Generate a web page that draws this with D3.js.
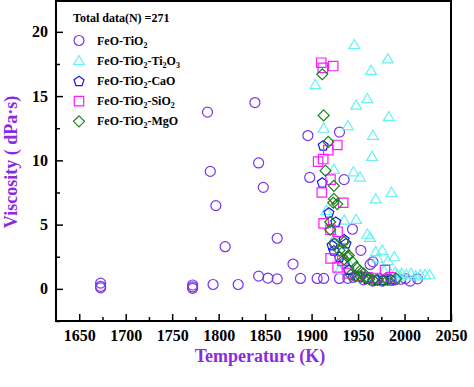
<!DOCTYPE html>
<html>
<head>
<meta charset="utf-8">
<script src="https://cdn.jsdelivr.net/npm/d3@7"></script>
<style>
  body { margin: 0; background: #fff; }
  text { font-family: "Liberation Serif", "Times New Roman", serif; font-weight: bold; }
</style>
</head>
<body>
<svg id="chart"></svg>
<script>
// data: [temperature K, viscosity dPa·s]
const feoTio2 = [
  [1673, 0.45], [1673, 0.2], [1673, 0.08], [1772, 0.3], [1772, 0.15], [1772, 0.04],
  [1788, 13.75], [1791, 9.14], [1794, 0.34], [1797, 6.48], [1807, 3.28], [1821, 0.34],
  [1839, 14.5], [1843, 9.8], [1843, 0.99], [1848, 7.9], [1853, 0.84], [1863, 3.94],
  [1863, 0.78], [1880, 1.93], [1888, 0.81], [1896, 11.93], [1898, 8.67], [1906, 0.81],
  [1913, 0.81], [1930, 12.2], [1935, 8.5], [1930, 0.81], [1939, 0.82], [1944, 4.64],
  [1953, 3.0], [1963, 1.9], [1966, 2.1], [1971, 0.75], [1980, 0.8], [1990, 0.7],
  [2001, 0.8], [2006, 0.6], [2014, 0.78], [1925, 3.5], [1935, 2.0], [1950, 1.0], [1960, 0.9],
  [1945, 0.9], [1956, 0.7], [1966, 0.6], [1976, 0.6], [1986, 0.65], [1996, 0.75]
];
const feoTio2Ti2o3 = [
  [1946, 19.0], [1982, 17.9], [1964, 17.0], [1904, 15.9], [1960, 14.8], [1948, 14.3],
  [1983, 13.4], [1939, 12.7], [1913, 12.5], [1966, 11.95], [1965, 10.3], [1924, 9.3],
  [1945, 9.1], [1952, 8.7], [1986, 7.5], [1969, 7.0], [1916, 6.1], [1935, 5.35],
  [1948, 5.4], [1960, 4.25], [1963, 4.0], [1969, 2.9], [1976, 3.0], [1971, 2.4],
  [1982, 2.2], [1989, 2.5], [1992, 1.1], [1997, 1.2], [2002, 1.1], [2007, 1.2],
  [2012, 1.0], [2017, 1.1], [2022, 1.1], [2027, 1.1], [1990, 1.3], [1995, 1.0],
  [1985, 1.2], [1978, 1.4], [1930, 1.5], [1940, 2.0], [1925, 4.0]
];
const feoTio2Cao = [
  [1912.5, 11.17], [1911.5, 8.28], [1918.6, 5.94], [1926, 5.23], [1935, 3.86], [1937, 3.55],
  [1922, 3.4], [1924, 3.0], [1930, 2.5], [1940, 1.5], [1950, 1.0], [1960, 0.8],
  [1970, 0.7], [1978, 0.7], [1985, 0.76]
];
const feoTio2Sio2 = [
  [1910.4, 17.6], [1912, 17.2], [1923.3, 17.34], [1927.7, 11.2], [1918, 10.8], [1907, 9.9],
  [1912.5, 10.1], [1920.4, 8.5], [1911, 7.5], [1934, 6.7], [1913, 5.1], [1920.4, 4.6],
  [1928, 4.45], [1920.4, 2.37], [1928, 1.67], [1933, 2.2], [1940, 1.2], [1950, 1.0],
  [1960, 0.9], [1970, 0.85], [1979, 1.46], [1985, 0.9]
];
const feoTio2Mgo = [
  [1911.5, 16.7], [1913, 13.5], [1918, 11.44], [1915, 9.2], [1924, 8.02], [1924, 7.0],
  [1923.3, 6.7], [1927.6, 6.6], [1920, 5.2], [1920, 4.6], [1935, 3.67], [1924, 3.55],
  [1935, 3.0], [1930, 3.0], [1938.5, 2.5], [1940, 2.6], [1935, 2.3], [1944, 2.1],
  [1948, 1.7], [1952, 1.4], [1956, 1.2], [1942, 1.1], [1953, 0.94], [1962, 0.75],
  [1971, 0.7], [1982, 0.7], [1991, 0.8], [1947, 1.0], [1958, 0.85], [1966, 0.7], [1977, 0.65]
];

const xTicks = [1650, 1700, 1750, 1800, 1850, 1900, 1950, 2000, 2050];
const yTicks = [0, 5, 10, 15, 20];
const seriesNames = [
  ['FeO-TiO', ['2']],
  ['FeO-TiO', ['2', '-Ti', '2', 'O', '3']],
  ['FeO-TiO', ['2', '-CaO']],
  ['FeO-TiO', ['2', '-SiO', '2']],
  ['FeO-TiO', ['2', '-MgO']]
];
const totalLabel = 'Total data(N) =271';

const width = 474, height = 387;
const margin = { top: 1, right: 23, bottom: 66, left: 56 };

const svg = d3.select('#chart').attr('width', width).attr('height', height);

const x = d3.scaleLinear().domain([1625, 2050]).range([margin.left, width - margin.right]);
const y = d3.scaleLinear().domain([-2.5, 22.4]).range([height - margin.bottom, margin.top]);

// minor ticks
svg.append('g')
  .attr('transform', `translate(0,${height - margin.bottom})`)
  .call(d3.axisBottom(x).tickValues(d3.range(1675, 2050, 50)).tickSize(-4).tickFormat(''))
  .call(g => g.select('.domain').remove());
svg.append('g')
  .attr('transform', `translate(${margin.left},0)`)
  .call(d3.axisLeft(y).tickValues([-2.5, 2.5, 7.5, 12.5, 17.5]).tickSize(-4).tickFormat(''))
  .call(g => g.select('.domain').remove());

// major ticks
const xAxis = svg.append('g')
  .attr('transform', `translate(0,${height - margin.bottom})`)
  .call(d3.axisBottom(x).tickValues(xTicks).tickSize(-7).tickPadding(9).tickFormat(d3.format('d')));
const yAxis = svg.append('g')
  .attr('transform', `translate(${margin.left},0)`)
  .call(d3.axisLeft(y).tickValues(yTicks).tickSize(-7).tickPadding(8));

[xAxis, yAxis].forEach(g => {
  g.select('.domain').remove();
  g.selectAll('text').attr('font-size', 16).attr('fill', '#000')
    .attr('font-family', '"Liberation Serif", serif').attr('font-weight', 'bold');
});
svg.selectAll('.tick line').attr('stroke', '#000').attr('stroke-width', 1.5);

// frame
svg.append('rect')
  .attr('x', margin.left).attr('y', margin.top)
  .attr('width', width - margin.right - margin.left)
  .attr('height', height - margin.bottom - margin.top)
  .attr('fill', 'none').attr('stroke', '#000').attr('stroke-width', 2);

// marker shapes
const shapes = {
  circle: 'M5,0A5,5 0 1,1 -5,0A5,5 0 1,1 5,0Z',
  triangle: 'M0,-5.2L5.4,4L-5.4,4Z',
  pentagon: d3.range(5).map(i => {
    const a = -Math.PI / 2 + i * 2 * Math.PI / 5;
    return (i ? 'L' : 'M') + (5.2 * Math.cos(a)).toFixed(2) + ',' + (5.2 * Math.sin(a) + 0.5).toFixed(2);
  }).join('') + 'Z',
  square: 'M-4.7,-4.7L4.7,-4.7L4.7,4.7L-4.7,4.7Z',
  diamond: 'M0,-5.5L5.5,0L0,5.5L-5.5,0Z'
};

const series = [
  { data: feoTio2, shape: 'circle', color: '#7a35e8' },
  { data: feoTio2Ti2o3, shape: 'triangle', color: '#66f2f2' },
  { data: feoTio2Cao, shape: 'pentagon', color: '#1414ff' },
  { data: feoTio2Sio2, shape: 'square', color: '#ff1aff' },
  { data: feoTio2Mgo, shape: 'diamond', color: '#1a801a' }
];

const plot = svg.append('g');
series.forEach(s => {
  plot.append('g').selectAll('path')
    .data(s.data)
    .join('path')
    .attr('d', shapes[s.shape])
    .attr('transform', d => `translate(${x(d[0])},${y(d[1])})`)
    .attr('fill', 'none')
    .attr('stroke', s.color)
    .attr('stroke-width', 1.2);
});

// legend
const legend = svg.append('g');
legend.append('text').attr('x', 73).attr('y', 22).attr('font-size', 12).text(totalLabel);
series.forEach((s, i) => {
  const cy = 40.5 + i * 20.2;
  legend.append('path').attr('d', shapes[s.shape])
    .attr('transform', `translate(79,${cy})`)
    .attr('fill', 'none').attr('stroke', s.color).attr('stroke-width', 1.2);
  const t = legend.append('text').attr('x', 97).attr('y', cy + 4).attr('font-size', 12);
  const [base, parts] = seriesNames[i];
  t.append('tspan').text(base);
  parts.forEach(p => {
    const sub = /^\d$/.test(p);
    t.append('tspan')
      .attr('font-size', sub ? 8 : 12)
      .attr('dy', sub ? 3 : -3)
      .text(p);
  });
});

// axis titles
svg.append('text')
  .attr('x', 260).attr('y', 362)
  .attr('text-anchor', 'middle').attr('font-size', 18).attr('fill', '#8a2be2')
  .text('Temperature (K)');
svg.append('text')
  .attr('transform', 'translate(17,162) rotate(-90)')
  .attr('text-anchor', 'middle').attr('font-size', 18).attr('fill', '#8a2be2')
  .text('Viscosity ( dPa·s)');
</script>
</body>
</html>
